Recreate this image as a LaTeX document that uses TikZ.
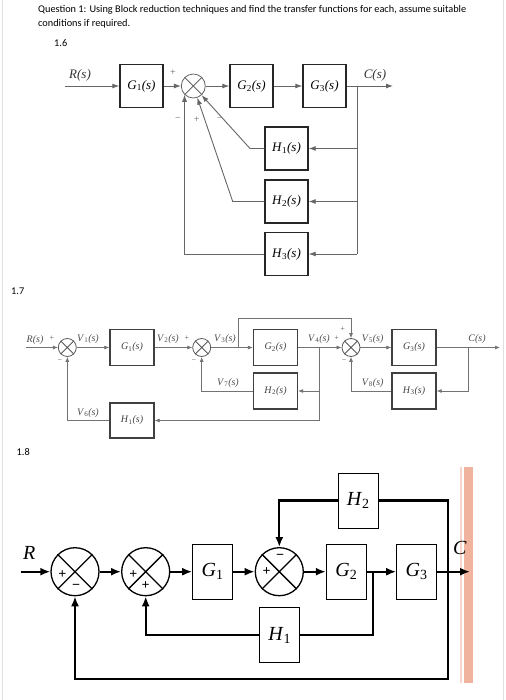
\documentclass[tikz,border=0pt]{standalone}
\usepackage{fontspec}
\setmainfont{Liberation Serif}
\newfontfamily\calibri{Carlito}
\usetikzlibrary{arrows.meta}
\definecolor{salmone}{RGB}{240,180,158}
\newcommand{\tf}[2]{\textit{#1}\textsubscript{#2}\textit{(s)}}
\newcommand{\gc}[2]{\textit{#1}\textsubscript{#2}}

\begin{document}
\begin{tikzpicture}[x=1pt,y=-1pt,
  testo/.style={anchor=base west,inner sep=0pt,font=\calibri\fontsize{10.3}{12}\selectfont}]
\useasboundingbox (0,0) rectangle (505,700);
\fill[white] (0,0) rectangle (505,700);
\draw[black!12,line width=1pt] (2,0) -- (2,700) (503.5,0) -- (503.5,700);
% testo
\node (tit1) at (38,12.5) [testo] {Question 1: Using Block reduction techniques and find the transfer functions for each, assume suitable};
\node (tit2) at (38,26.7) [testo] {conditions if required.};
\node (n16) at (54,46.5) [testo] {1.6};
\node (n17) at (11,294) [testo] {1.7};
\node (n18) at (16.5,455) [testo] {1.8};

% ---- 1.6
\begin{scope}[
  blkA/.style={draw=black!85,line width=1.4pt,minimum width=43pt,minimum height=43pt,inner sep=0pt,font=\fontsize{13}{13}\selectfont},
  sumA/.style={draw=black!60,circle,line width=0.8pt,minimum size=24pt,inner sep=0pt},
  lineA/.style={color=black!60,line width=0.9pt,>={Latex[length=7pt,width=5pt]}},
  lblA/.style={font=\fontsize{13}{13}\selectfont,text=black!80},
  signA/.style={font=\fontsize{10}{10}\selectfont,text=black!60}]
 % nodi
  \coordinate (r6) at (65,86);
  \node (g1a) at (141.5,86) [blkA] {\tf{G}{1}};
  \node (sa) at (193.3,86) [sumA] {};
  \node (g2a) at (251.5,86) [blkA] {\tf{G}{2}};
  \node (g3a) at (324.5,86) [blkA] {\tf{G}{3}};
  \coordinate (b6) at (357,86);
  \coordinate (c6) at (393,86);
  \coordinate (k6) at (357,254);
  \node (h1a) at (286.5,148.5) [blkA] {\tf{H}{1}};
  \node (h2a) at (286.5,201.5) [blkA] {\tf{H}{2}};
  \node (h3a) at (286.5,254) [blkA] {\tf{H}{3}};
  \coordinate (d1) at (250,148.5);
  \coordinate (d2) at (232.7,201.5);
  \node (rl6) at (80,75) [lblA] {\textit{R(s)}};
  \node (cl6) at (375,75) [lblA] {\textit{C(s)}};
  \node (pa1) at (173,73) [signA] {+};
  \node (ma1) at (178,120) [signA] {−};
  \node (pa2) at (196.7,120) [signA] {+};
  \node (ma2) at (220,120) [signA] {−};
 % archi
  \path[lineA,->] (r6) edge (g1a) (g1a) edge (sa) (sa) edge (g2a) (g2a) edge (g3a) (g3a) edge (c6);
  \draw[lineA] (b6) -- (k6);
  \path[lineA,->] (b6 |- h1a) edge (h1a) (b6 |- h2a) edge (h2a) (k6) edge (h3a);
  \draw[lineA,->] (h1a.west) -- (d1) -- (sa);
  \draw[lineA,->] (h2a.west) -- (d2) -- (sa);
  \draw[lineA,->] (h3a.west) -| (sa.south west);
  \draw[draw=black!60,line width=0.8pt] (sa.north west) -- (sa.south east) (sa.north east) -- (sa.south west);
\end{scope}

% ---- 1.7
\begin{scope}[
  blkB/.style={draw=black!75,line width=1.3pt,minimum width=44pt,minimum height=36pt,inner sep=0pt,font=\fontsize{10}{10}\selectfont,text=black!75},
  sumB/.style={draw=black!65,circle,line width=0.8pt,minimum size=18pt,inner sep=0pt},
  lineB/.style={color=black!55,line width=0.7pt,>={Latex[length=5pt,width=4pt]}},
  lblB/.style={font=\fontsize{10}{10}\selectfont,text=black!70},
  signB/.style={font=\fontsize{8}{8}\selectfont,text=black!65}]
 % nodi
  \coordinate (r7) at (26,347.5);
  \node (s1b) at (67.3,347.5) [sumB] {};
  \node (g1b) at (132,347.5) [blkB] {\tf{G}{1}};
  \node (s2b) at (201.7,347.5) [sumB] {};
  \coordinate (p3) at (238.7,347.5);
  \coordinate (t3) at (238.7,318.3);
  \node (g2b) at (275.5,347.5) [blkB] {\tf{G}{2}};
  \coordinate (p4) at (319.3,347.5);
  \coordinate (q4) at (319.3,420.5);
  \node (s3b) at (351,347.5) [sumB] {};
  \node (g3b) at (414,347.5) [blkB] {\tf{G}{3}};
  \coordinate (p5) at (468.3,347.5);
  \coordinate (c7) at (500,347.5);
  \node (h3b) at (414,391) [blkB] {\tf{H}{3}};
  \node (h2b) at (275.5,391) [blkB] {\tf{H}{2}};
  \node (h1b) at (132,420.5) [blkB,minimum height=35pt] {\tf{H}{1}};
  \node (rl7) at (35,340) [lblB] {\textit{R(s)}};
  \node (v1) at (88,339) [lblB] {\tf{V}{1}};
  \node (v2) at (168,339) [lblB] {\tf{V}{2}};
  \node (v3) at (225,339) [lblB] {\tf{V}{3}};
  \node (v4) at (319,339) [lblB] {\tf{V}{4}};
  \node (v5) at (372.6,339) [lblB] {\tf{V}{5}};
  \node (cl7) at (477,339) [lblB] {\textit{C(s)}};
  \node (v7) at (228,383) [lblB] {\tf{V}{7}};
  \node (v8) at (372.7,383) [lblB] {\tf{V}{8}};
  \node (v6) at (88,412.7) [lblB] {\tf{V}{6}};
  \node (pb1) at (52,338) [signB] {+};
  \node (mb1) at (60,361) [signB] {−};
  \node (pb2) at (187,338) [signB] {+};
  \node (mb2) at (194,361) [signB] {−};
  \node (pb3) at (336.7,338.5) [signB] {+};
  \node (pb4) at (342.5,329.5) [signB] {+};
  \node (mb3) at (344,361) [signB] {−};
 % archi
  \path[lineB,->] (r7) edge (s1b) (s1b) edge (g1b) (g1b) edge (s2b) (s2b) edge (g2b)
    (g2b) edge (s3b) (s3b) edge (g3b) (g3b) edge (c7);
  \draw[lineB,->] (p3) -- (t3) -| (s3b);
  \draw[lineB,->] (p5) |- (h3b);
  \draw[lineB,->] (h3b) -| (s3b);
  \draw[lineB] (p4) -- (q4);
  \path[lineB,->] (p4 |- h2b) edge (h2b) (q4) edge (h1b);
  \draw[lineB,->] (h2b) -| (s2b);
  \draw[lineB,->] (h1b) -| (s1b);
  \foreach \s in {s1b,s2b,s3b}
    \draw[draw=black!65,line width=0.8pt] (\s.north west) -- (\s.south east) (\s.north east) -- (\s.south west);
\end{scope}

% ---- 1.8
\fill[salmone] (464,466.7) rectangle (473,683);
\draw[salmone!55,line width=1.5pt] (461,466.7) -- (461,683);
\begin{scope}[
  blkC/.style={draw=black,line width=1pt,minimum width=40pt,minimum height=55pt,inner sep=0pt,font=\fontsize{20}{20}\selectfont},
  sumC/.style={draw=black,circle,line width=1.3pt,minimum size=48pt,inner sep=0pt},
  lineC/.style={color=black,line width=2.2pt,>={Latex[length=10pt,width=8pt]}},
  lblC/.style={font=\fontsize{20}{20}\selectfont},
  signC/.style={font=\bfseries\fontsize{14}{14}\selectfont}]
 % nodi
  \coordinate (r8) at (20.7,571.7);
  \node (sA) at (75,571.7) [sumC] {};
  \node (sB) at (145.7,571.7) [sumC] {};
  \node (g1c) at (212.7,571.7) [blkC] {\gc{G}{1}};
  \node (sC) at (279.3,571.7) [sumC] {};
  \node (g2c) at (346.3,571.7) [blkC] {\gc{G}{2}};
  \coordinate (q1) at (373.3,571.7);
  \node (g3c) at (416.7,571.7) [blkC] {\gc{G}{3}};
  \coordinate (q2) at (448.3,571.7);
  \coordinate (c8) at (470,571.7);
  \coordinate (u8) at (448.3,679.3);
  \node (h2c) at (358.3,500.5) [blkC] {\gc{H}{2}};
  \node (h1c) at (279.7,635) [blkC] {\gc{H}{1}};
  \node (rl8) at (29.3,553) [lblC] {\textit{R}};
  \node (cl8) at (460,548) [lblC] {\textit{C}};
  \node (pc1) at (62.3,575) [signC] {+};
  \node (mc1) at (76,587) [signC] {−};
  \node (pc2) at (133.3,575) [signC] {+};
  \node (pc3) at (145.7,586) [signC] {+};
  \node (mc2) at (280,557.3) [signC] {−};
  \node (pc4) at (266.7,571.7) [signC] {+};
 % archi
  \path[lineC,->] (r8) edge (sA) (sA) edge (sB) (sB) edge (g1c) (g1c) edge (sC)
    (sC) edge (g2c) (g2c) edge (g3c) (g3c) edge (c8);
  \draw[lineC] (q2) |- (h2c);
  \draw[lineC,->] (h2c) -| (sC);
  \draw[lineC] (q1) |- (h1c);
  \draw[lineC,->] (h1c) -| (sB);
  \draw[lineC,->] (q2) -- (u8) -| (sA);
  \foreach \s in {sA,sB,sC}
    \draw[line width=1.3pt] (\s.north west) -- (\s.south east) (\s.north east) -- (\s.south west);
\end{scope}
\end{tikzpicture}
\end{document}
